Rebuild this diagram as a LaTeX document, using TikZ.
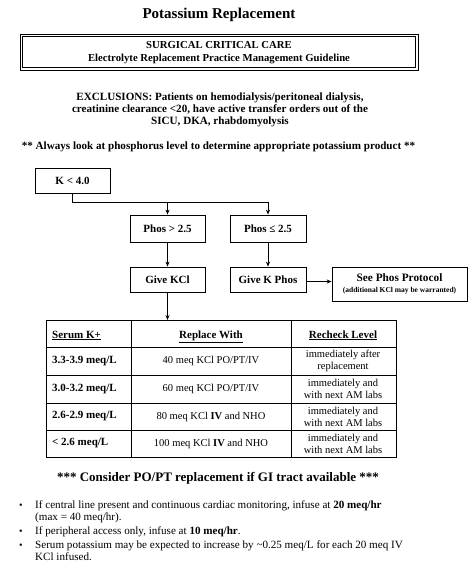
\documentclass[tikz,border=0pt]{standalone}
\usepackage{fontspec}
\setmainfont{Liberation Serif}
\usetikzlibrary{arrows.meta}
\begin{document}
\begin{tikzpicture}[x=1pt,y=-1pt,
  font=\fontsize{10}{12}\selectfont,
  fbox/.style={draw,line width=0.8pt,inner sep=0pt,font=\fontsize{11}{12}\selectfont\bfseries},
  arr/.style={line width=0.8pt,-{Stealth[length=5pt,width=4pt]}},
  tl/.style={line width=0.6pt},
  cell/.style={inner sep=0pt,align=center,font=\fontsize{10.5}{12}\selectfont},
  cellb/.style={inner sep=0pt,anchor=west,font=\fontsize{11}{12}\selectfont\bfseries},
  hcell/.style={inner sep=0pt,anchor=base,font=\fontsize{11}{12}\selectfont\bfseries},
  bul/.style={anchor=north west,align=left,inner sep=0pt,font=\fontsize{11.1}{12.5}\selectfont}]
\useasboundingbox (0,0) rectangle (474,571);

\node (title) at (219,15) {\fontsize{15}{17}\selectfont\bfseries Potassium Replacement};

\draw[line width=0.7pt] (20,34) rectangle (418,70);
\draw[line width=0.7pt] (22.5,36.5) rectangle (415.5,67.5);
\node[align=center,font=\fontsize{10.7}{13}\selectfont\bfseries] (hdr) at (219,52.5)
  {SURGICAL CRITICAL CARE\\Electrolyte Replacement Practice Management Guideline};

\node[align=center,font=\fontsize{11.1}{12.3}\selectfont\bfseries] (excl) at (220,110)
  {EXCLUSIONS: Patients on hemodialysis/peritoneal dialysis,\\creatinine clearance <20, have active transfer orders out of the\\SICU, DKA, rhabdomyolysis};

\node[font=\fontsize{11.1}{12}\selectfont\bfseries] (always) at (218.5,147)
  {** Always look at phosphorus level to determine appropriate potassium product **};

\node[fbox,minimum width=75pt,minimum height=25pt] (k) at (72.5,180.5) {K < 4.0};
\node[fbox,minimum width=75pt,minimum height=27pt] (p1) at (167.5,228.5) {Phos > 2.5};
\node[fbox,minimum width=76pt,minimum height=27pt] (p2) at (268,228.5) {Phos ≤ 2.5};
\node[fbox,minimum width=75pt,minimum height=25pt] (g1) at (167.5,279.5) {Give KCl};
\node[fbox,minimum width=76pt,minimum height=25pt] (g2) at (268,279.5) {Give K Phos};
\node[fbox,minimum width=135pt,minimum height=34pt,align=center] (sp) at (399.5,284)
  {\fontsize{11.3}{12}\selectfont See Phos Protocol\\[-1pt]{\fontsize{7.5}{8}\selectfont (additional KCl may be warranted)}};

\coordinate (j) at (72.5,202);
\draw[line width=0.8pt] (k.south) -- (j) -- (j -| p2.north);
\draw[arr] (j -| p1.north) -- (p1.north);
\draw[arr] (j -| p2.north) -- (p2.north);
\draw[arr] (p1.south) -- (g1.north);
\draw[arr] (p2.south) -- (g2.north);
\draw[arr] ([yshift=-2pt]g2.east) -- ([yshift=-2pt]g2.east -| sp.west);

% table
\coordinate (tnw) at (46,320);
\coordinate (tse) at (396,457);
\draw[arr] (g1.south) -- (g1.south |- tnw);
\draw[tl] (tnw) rectangle (tse);
\draw[tl] (131,320) -- (131,457);
\draw[tl] (291,320) -- (291,457);
\foreach \yy in {347,375,403,430} \draw[tl] (46,\yy) -- (396,\yy);

\node[hcell,anchor=base west] (h1) at (52,338) {\underline{Serum K+}};
\node[hcell] (h2) at (211,338) {\underline{Replace With}};
\node[hcell] (h3) at (343,338) {\underline{Recheck Level}};

\node[cellb] (r1a) at (52,361) {3.3-3.9 meq/L};
\node[cell] (r1b) at (211,361) {40 meq KCl PO/PT/IV};
\node[cell] (r1c) at (343,361) {immediately after\\replacement};

\node[cellb] (r2a) at (52,389) {3.0-3.2 meq/L};
\node[cell] (r2b) at (211,389) {60 meq KCl PO/PT/IV};
\node[cell] (r2c) at (343,389) {immediately and\\with next AM labs};

\node[cellb] (r3a) at (52,416.5) {2.6-2.9 meq/L};
\node[cell] (r3b) at (211,416.5) {80 meq KCl \textbf{IV} and NHO};
\node[cell] (r3c) at (343,416.5) {immediately and\\with next AM labs};

\node[cellb] (r4a) at (52,443.5) {< 2.6 meq/L};
\node[cell] (r4b) at (211,443.5) {100 meq KCl \textbf{IV} and NHO};
\node[cell] (r4c) at (343,443.5) {immediately and\\with next AM labs};

\node[font=\fontsize{13}{15}\selectfont\bfseries] (cons) at (218,478)
  {*** Consider PO/PT replacement if GI tract available ***};

\node[anchor=center] (b1) at (21,506) {\textbullet};
\node[anchor=center] (b2) at (21,532) {\textbullet};
\node[anchor=center] (b3) at (21,546) {\textbullet};
\node[bul] (t1) at (35,500) {If central line present and continuous cardiac monitoring, infuse at \textbf{20 meq/hr}\\(max = 40 meq/hr).};
\node[bul] (t2) at (35,526) {If peripheral access only, infuse at \textbf{10 meq/hr}.};
\node[bul] (t3) at (35,540) {Serum potassium may be expected to increase by \textasciitilde0.25 meq/L for each 20 meq IV\\KCl infused.};
\end{tikzpicture}
\end{document}
